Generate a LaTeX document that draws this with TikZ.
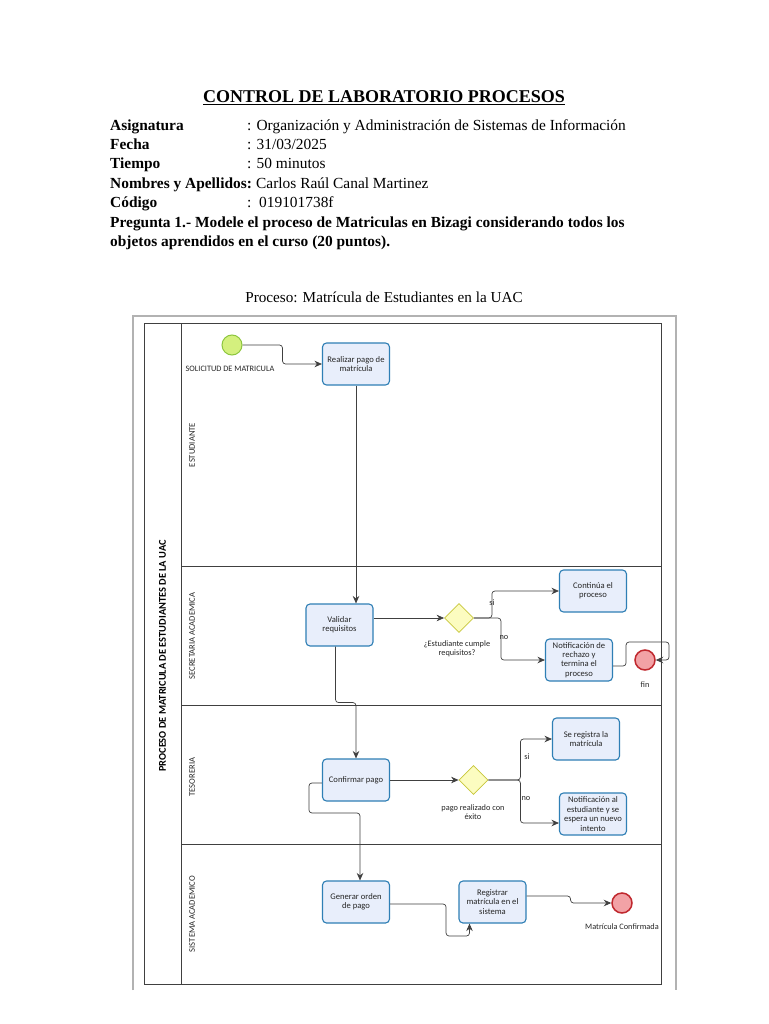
\documentclass[tikz,border=0pt]{standalone}
\usepackage{fontspec}
\setmainfont{Liberation Serif}
\newfontfamily\diag{Carlito}
\usetikzlibrary{shapes.geometric,arrows.meta}
\definecolor{taskblue}{HTML}{2F7FB5}
\definecolor{taskfill}{HTML}{E8EEFB}
\definecolor{gwborder}{HTML}{C7C63A}
\definecolor{gwfill}{HTML}{FCFCC0}
\definecolor{startborder}{HTML}{8DC63F}
\definecolor{startfill}{HTML}{D4F07E}
\definecolor{endborder}{HTML}{C0282E}
\definecolor{endfill}{HTML}{F2A2A6}
\definecolor{poolline}{HTML}{404040}
\begin{document}
\begin{tikzpicture}[x=1pt,y=-1pt,
  task/.style={draw=taskblue, fill=taskfill, rounded corners=4pt, line width=1.1pt,
    minimum width=67pt, minimum height=42pt, align=center, inner sep=1pt,
    font=\diag\fontsize{8.6}{9.4}\selectfont, text=black!85},
  gw/.style={diamond, draw=gwborder, fill=gwfill, line width=0.8pt, minimum width=29pt, minimum height=29pt, inner sep=0pt},
  startev/.style={circle, draw=startborder, fill=startfill, line width=1pt, minimum size=20pt, inner sep=0pt},
  endev/.style={circle, draw=endborder, fill=endfill, line width=1.5pt, minimum size=20pt, inner sep=0pt},
  flow/.style={draw=black!75, line width=0.7pt, rounded corners=3pt, -{Stealth[length=7.5pt,width=6.5pt]}},
  lbl/.style={font=\diag\fontsize{8.3}{9.3}\selectfont, text=black!85, align=center, inner sep=0pt},
  lanelbl/.style={font=\diag\fontsize{8.6}{9}\selectfont, text=black!85, rotate=90, inner sep=0pt},
  hdr/.style={anchor=base west, inner sep=0pt, font=\fontsize{15.4}{18}\selectfont},
  hdrb/.style={anchor=base west, inner sep=0pt, font=\bfseries\fontsize{15.4}{18}\selectfont},
]
\path[use as bounding box, fill=white] (0,0) rectangle (768,1024);

% header
\node[inner sep=0pt, anchor=base, font=\bfseries\fontsize{18}{20}\selectfont] (title) at (384,103) {\underline{CONTROL DE LABORATORIO PROCESOS}};
\node[hdrb] (k1) at (110,131) {Asignatura};
\node[hdr] (v1) at (247,131) {: Organización y Administración de Sistemas de Información};
\node[hdrb] (k2) at (110,150) {Fecha};
\node[hdr] (v2) at (247,150) {: 31/03/2025};
\node[hdrb] (k3) at (110,169) {Tiempo};
\node[hdr] (v3) at (247,169) {: 50 minutos};
\node[hdrb] (k4) at (110,189) {Nombres y Apellidos:};
\node[hdr] (v4) at (256,189) {Carlos Raúl Canal Martinez};
\node[hdrb] (k5) at (110,208) {Código};
\node[hdr] (v5) at (247,208) {:\ \ 019101738f};
\node[hdrb] (q1) at (110,228) {Pregunta 1.- Modele el proceso de Matriculas en Bizagi considerando todos los};
\node[hdrb] (q2) at (110,246) {objetos aprendidos en el curso (20 puntos).};
\node[inner sep=0pt, anchor=base, font=\fontsize{15.2}{18}\selectfont] (cap) at (384,302) {Proceso: Matrícula de Estudiantes en la UAC};

% image frame
\draw[black!30, line width=1.2pt] (133,990) -- (133,316) -- (676,316) -- (676,990);

% pool and lanes
\draw[poolline, line width=0.9pt] (144,323) rectangle (661,984);
\draw[poolline, line width=0.9pt] (181,323) -- (181,984);
\draw[poolline, line width=0.9pt] (181,566) -- (661,566);
\draw[poolline, line width=0.9pt] (181,705) -- (661,705);
\draw[poolline, line width=0.9pt] (181,844) -- (661,844);
\node[font=\diag\bfseries\fontsize{10.4}{11}\selectfont, rotate=90, inner sep=0pt] (pooltitle) at (162.5,656) {PROCESO DE MATRICULA DE ESTUDIANTES DE LA UAC};
\node[lanelbl] (lane1) at (192,445) {ESTUDIANTE};
\node[lanelbl] (lane2) at (192,636) {SECRETARIA ACADEMICA};
\node[lanelbl] (lane3) at (192,777) {TESORERIA};
\node[lanelbl] (lane4) at (192,914) {SISTEMA ACADEMICO};

% events, tasks, gateways
\node[startev] (start) at (232,345) {};
\node[lbl] (startlbl) at (230,369) {SOLICITUD DE MATRICULA};
\node[task] (t1) at (356,364) {Realizar pago de\\matrícula};
\node[task] (t2) at (339.5,625) {Validar\\requisitos};
\node[gw] (g1) at (459,618) {};
\node[lbl] (g1lbl) at (457,649) {¿Estudiante cumple\\requisitos?};
\node[task] (t3) at (593,591) {Continúa el\\proceso};
\node[task] (t4) at (579,660) {Notificación de\\rechazo y\\termina el\\proceso};
\node[endev] (end1) at (645,660) {};
\node[lbl] (end1lbl) at (645,685) {fin};
\node[task] (t5) at (356,780) {Confirmar pago};
\node[gw] (g2) at (473.5,780) {};
\node[lbl] (g2lbl) at (473,812) {pago realizado con\\éxito};
\node[task] (t6) at (586,739) {Se registra la\\matrícula};
\node[task] (t7) at (593,814) {Notificación al\\estudiante y se\\espera un nuevo\\intento};
\node[task] (t8) at (356,902) {Generar orden\\de pago};
\node[task] (t9) at (492.5,902) {Registrar\\matrícula en el\\sistema};
\node[endev] (end2) at (622,903) {};
\node[lbl] (end2lbl) at (622,927) {Matrícula Confirmada};

% flows
\draw[flow] (start.east) -- ++(40,0) |- (t1.west);
\draw[flow] (t1.south) -- (t1.south |- t2.north);
\draw[flow] (t2.east |- g1.west) -- (g1.west);
\draw[flow] (g1.east) -- ++(18,0) |- (t3.west);
\draw[flow] (g1.east) -- ++(27,0) |- (t4.west);
\node[lbl] (si1) at (492,603) {si};
\node[lbl] (no1) at (504,638) {no};
\draw[flow] ([yshift=-6pt]t4.east) -- ++(13,0) -- ++(0,-24) -- ++(43,0) |- (end1.east);
\draw[flow] ([xshift=-4pt]t2.south) -- ++(0,56) -| (t5.north);
\draw[flow] (t5.east) -- (g2.west);
\draw[flow] (g2.east) -- ++(32,0) |- (t6.west);
\draw[flow] (g2.east) -- ++(32,0) |- ([yshift=-9pt]t7.west);
\node[lbl] (si2) at (527,757) {si};
\node[lbl] (no2) at (526,799) {no};
\draw[flow] ([yshift=-3pt]t5.west) -- ++(-13,0) -- ++(0,30) -| ([xshift=4pt]t8.north);
\draw[flow] ([yshift=-2pt]t8.east) -- ++(56,0) -- ++(0,32) -| ([xshift=-23pt]t9.south);
\draw[flow] ([yshift=6pt]t9.east) -- ++(44,0) |- (end2.west);
\end{tikzpicture}
\end{document}
